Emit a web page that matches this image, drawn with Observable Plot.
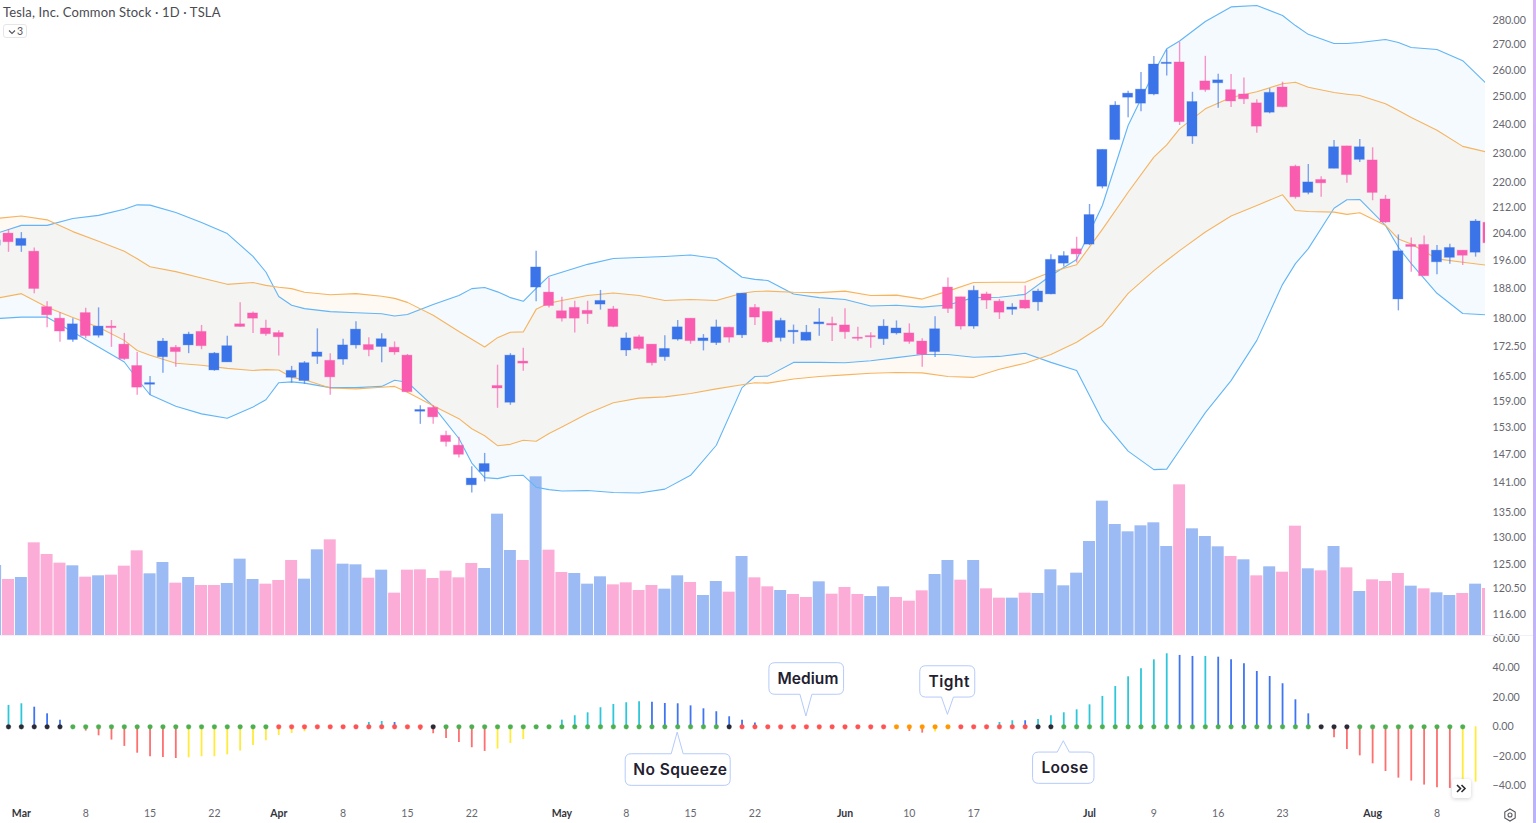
<!DOCTYPE html>
<html><head><meta charset="utf-8">
<script src="https://cdn.jsdelivr.net/npm/d3@7"></script>
<script src="https://cdn.jsdelivr.net/npm/@observablehq/plot@0.6"></script>
<style>
html,body{margin:0;padding:0;background:#fff;overflow:hidden}
#stage{position:relative;width:1536px;height:823px;overflow:hidden;font-family:Lato,sans-serif}
#stage>.layer{position:absolute;left:0;top:0}
#title{position:absolute;left:3px;top:4px;font-size:13px;letter-spacing:.16px;color:#4a4a52;white-space:nowrap}
#fold{position:absolute;left:3px;top:24px;width:24px;height:14px;box-sizing:border-box;border:1px solid #e6e6ea;border-radius:3px;font-size:10.5px;line-height:12px;color:#55555d;text-align:right;padding-right:3px}
#fold svg{position:absolute;left:4px;top:3px}
#sep{position:absolute;left:0;top:635px;width:1533px;height:1px;background:#eff0f8}
#edge{position:absolute;right:0;top:0;width:3px;height:823px;background:linear-gradient(#d9b6f7,#b9b3fb)}
#more{position:absolute;left:1452px;top:779px;width:19px;height:19px;background:#fff;border-radius:3px;box-shadow:0 1px 4px rgba(0,0,0,.18)}
#gear{position:absolute;left:1503px;top:806px}
</style></head><body>
<div id="stage">
<div id="vol" class="layer"></div>
<div id="price" class="layer"></div>
<div id="osc" class="layer"></div>
<div id="sep"></div>
<div id="title">Tesla, Inc. Common Stock · 1D · TSLA</div>
<div id="fold"><svg width="8" height="8" viewBox="0 0 8 8"><path d="M1 2.5 L4 5.5 L7 2.5" fill="none" stroke="#55555d" stroke-width="1.1"/></svg>3</div>
<div id="more"><svg width="19" height="19" viewBox="0 0 19 19"><path d="M5 6 L8.5 9.5 L5 13 M9.5 6 L13 9.5 L9.5 13" fill="none" stroke="#2b2b33" stroke-width="1.6"/></svg></div>
<div id="gear"><svg width="14" height="14" viewBox="0 0 14 14"><path d="M7 1 L12.2 4 L12.2 10 L7 13 L1.8 10 L1.8 4 Z" fill="none" stroke="#55555d" stroke-width="1.1"/><circle cx="7" cy="7" r="2" fill="none" stroke="#55555d" stroke-width="1.1"/></svg></div>
<div id="edge"></div>
</div>
<script>
// candles, first entry is session index -1 (mostly off the left edge)
const firstSession = -1;
const open = [200.5,204.1,200.4,198.7,183.0,179.9,174.3,181.4,175.4,177.8,173.1,167.7,163.1,169.9,172.3,172.9,176.4,166.6,168.6,178.4,181.3,177.3,176.1,164.8,164.0,170.0,169.0,169.3,172.9,173.0,172.5,172.3,170.3,156.7,157.6,151.2,149.0,140.5,143.3,162.8,158.8,168.8,188.4,187.0,181.9,182.8,182.0,183.7,182.4,171.6,175.0,173.1,169.9,174.4,179.9,174.0,173.5,177.5,175.5,182.8,181.7,174.8,176.3,174.1,178.4,178.5,178.1,174.9,175.3,174.5,176.0,176.0,173.9,171.2,188.4,185.7,177.8,186.5,184.5,182.3,184.8,184.3,186.5,195.2,199.4,200.8,218.8,234.5,249.7,247.5,250.9,262.5,263.1,235.7,255.8,255.1,252.5,250.9,247.6,244.2,253.5,225.4,216.8,221.0,224.7,232.3,227.7,227.5,214.7,185.1,200.7,200.7,195.6,196.9,199.0,198.4,207.4];
const close = [202.0,201.5,202.5,188.0,180.8,176.5,178.4,175.3,177.8,177.4,169.4,162.4,163.5,173.9,171.2,175.7,172.7,170.8,172.7,177.7,179.9,175.8,175.0,166.5,168.4,171.1,164.9,172.9,177.0,171.7,174.5,171.1,161.3,157.1,155.4,149.8,147.0,141.9,145.0,162.2,170.3,168.3,194.1,183.3,179.9,179.9,181.1,184.7,177.7,174.7,172.0,168.4,172.0,177.6,174.0,174.7,177.6,174.9,186.7,180.2,173.7,179.3,176.7,176.2,178.9,178.1,176.3,174.6,175.0,177.8,177.3,173.8,170.5,177.1,182.5,177.8,187.5,184.8,181.5,182.9,182.6,187.3,196.3,197.4,197.9,209.8,231.1,246.8,251.2,252.7,262.3,263.0,240.8,248.1,252.5,256.2,248.3,249.1,239.2,251.5,246.2,215.4,220.2,219.9,232.0,222.6,232.0,216.8,207.5,198.8,200.1,191.6,199.0,199.8,197.5,207.8,201.2];
const high = [203.2,205.3,204.4,199.8,184.5,181.5,179.9,182.7,182.8,179.4,176.0,171.1,165.1,174.7,172.9,176.3,178.1,171.1,175.3,184.2,181.7,179.5,176.7,167.6,168.8,177.2,170.8,174.5,179.1,174.9,175.9,173.8,170.6,158.1,158.1,152.2,150.9,144.4,147.3,167.9,170.8,172.2,198.8,191.1,185.7,184.6,184.6,187.6,183.2,176.1,175.5,173.1,175.4,179.4,179.9,175.7,179.5,177.6,186.7,183.7,181.7,180.0,178.2,178.1,182.6,180.3,182.6,177.6,176.2,179.6,179.3,178.5,174.6,180.4,191.1,185.7,188.8,187.1,185.1,183.9,188.8,187.9,197.8,198.7,203.0,213.1,231.1,248.2,252.1,259.2,265.4,268.0,271.1,251.7,265.5,258.5,258.4,257.1,248.9,253.0,255.5,225.9,226.1,222.1,234.3,232.3,234.7,231.8,216.0,203.7,202.8,203.4,200.5,200.9,199.0,208.4,208.0];
const low = [199.0,198.5,198.5,186.7,177.5,173.7,173.7,174.6,174.8,172.4,169.1,160.6,160.6,165.9,167.4,170.8,171.8,166.4,168.6,177.6,176.0,175.3,170.2,163.5,163.2,168.1,160.6,167.9,172.0,170.0,168.5,170.4,161.2,153.8,153.8,148.7,146.3,138.9,141.2,157.5,158.2,166.4,184.5,182.8,179.0,176.1,178.4,182.2,177.5,170.1,171.6,167.7,168.9,174.0,173.2,171.5,172.9,173.5,174.7,178.1,173.4,173.8,173.2,174.0,175.3,173.9,174.5,174.0,172.2,172.9,175.6,173.2,167.4,169.8,181.3,176.9,177.1,182.4,179.7,180.8,182.4,181.9,186.4,194.2,195.4,200.5,218.1,234.3,242.4,244.5,250.4,257.9,239.6,233.0,251.7,245.8,246.1,247.2,236.9,243.8,246.0,214.8,216.2,215.4,224.7,219.9,226.8,214.3,207.2,182.0,192.7,191.6,192.0,195.0,194.7,197.1,200.0];

// bands, read at these sessions
const bandSessions = [-1,1,3,5,7,9,10,11,13,15,17,19,20,21,22,23,25,27,29,30,31,33,35,36,37,38,39,40,41,42,43,45,47,49,51,53,55,57,58,59,61,63,65,67,69,71,73,75,77,79,81,83,85,87,89,90,91,93,95,97,99,100,101,103,104,105,107,108,109,111,113,115];
const bbUpper = [204.1,206.6,206.6,208.7,209.7,211.6,213.0,212.9,210.6,207.5,204.1,197.3,192.8,185.9,183.5,182.6,181.8,181.5,181.2,180.6,181.0,183.7,186.2,188.1,188.4,187.2,185.6,184.6,188.2,191.6,192.7,195.0,196.7,197.0,197.3,197.7,196.7,191.3,190.7,190.4,186.6,185.6,185.1,183.3,183.5,183.0,183.6,185.6,185.7,186.5,191.8,196.4,212.8,239.6,259.2,268.5,271.6,279.6,285.7,286.3,282.1,277.9,274.3,270.6,270.6,271.0,272.2,271.0,269.0,268.2,263.8,254.2];
const bbLower = [179.9,180.3,180.3,176.4,172.5,168.7,164.5,160.7,158.0,156.2,155.2,157.8,159.5,163.6,163.8,163.5,162.4,162.4,162.7,164.2,163.7,158.0,150.6,145.2,142.1,141.9,142.5,142.6,140.1,139.6,139.3,139.4,139.0,138.9,139.7,142.6,149.1,162.4,165.1,165.2,168.6,168.6,168.5,169.0,169.8,170.6,170.6,169.9,170.1,170.9,168.6,166.6,154.7,147.8,143.8,143.9,148.0,156.5,164.1,174.2,189.3,195.2,199.6,211.9,214.6,214.7,206.6,200.0,195.2,186.8,181.3,180.9];
const kcUpper = [208.7,209.5,208.3,204.7,201.8,198.8,196.6,194.3,192.9,191.1,189.3,189.8,189.0,188.5,188.1,187.1,186.4,186.7,186.0,185.4,184.3,180.8,176.5,174.5,172.5,174.9,176.3,176.4,182.4,184.1,184.8,186.2,186.9,186.2,184.8,185.1,184.8,186.8,187.3,187.4,187.1,187.0,187.4,186.2,186.3,185.2,187.4,189.8,189.9,189.9,192.8,194.9,205.4,217.0,228.6,232.8,238.4,245.6,249.8,251.9,254.9,255.5,253.6,251.6,251.0,250.5,247.5,245.0,242.5,237.9,232.3,230.2];
const kcLower = [185.4,186.7,183.0,180.2,177.6,174.2,171.6,170.4,168.4,167.9,167.1,166.6,166.8,166.7,164.9,164.3,162.3,162.1,162.5,162.7,161.3,158.1,155.1,152.8,151.2,149.0,149.3,150.2,150.0,151.7,153.2,156.3,158.8,159.9,160.2,161.0,162.1,163.1,163.6,163.5,164.5,165.1,165.5,165.9,166.1,166.0,165.1,164.9,166.9,168.4,170.6,173.7,178.1,186.8,193.2,196.1,199.0,204.6,209.5,212.8,216.2,211.2,210.9,210.7,210.0,210.5,206.6,202.5,201.0,196.6,195.6,194.7];

// volume in millions of shares; 1 = blue bar, 0 = pink bar
const volume = [105,84,87,139,121.5,108.5,104.5,87.5,89.5,90.5,104,127,92.5,109.5,78.5,87,75,75,78,114.5,84,77,82.5,112.5,84.5,128.5,143.5,107,106,86,98,63.5,98,98.5,85.5,96.5,86.5,108,100.5,182,127.5,112.5,238,128,94.5,93,77,88,76,79,67.5,75,69.5,89.5,79.5,60,81,65,118.5,86.5,73,67.5,61.5,57,80.5,62,72,61.5,58.5,73,57,51.5,67,91.5,112.5,83,112.5,70,56,56,63.5,63,98.5,74.5,93.5,141,201.5,166.5,155.5,164.5,169,133.5,226,160,148.5,133,118.5,113.5,89.5,103,95,164,100,97,133.5,101.5,66,83.5,81,93,74,70,64,60,63,77,70.5];
const volumeUp = [1,0,1,0,0,0,1,0,1,0,0,0,1,1,0,1,0,0,1,1,1,0,0,0,1,1,0,1,1,0,1,0,0,0,0,0,0,0,1,1,1,0,1,0,0,1,1,1,0,0,0,0,1,1,0,1,1,0,1,0,0,1,0,0,1,0,0,0,1,1,0,0,0,1,1,0,1,0,0,1,0,1,1,1,1,1,1,1,1,1,1,1,0,1,1,1,0,1,0,1,0,0,1,0,1,0,1,0,0,0,1,0,1,1,0,1,0];

// squeeze momentum from session 0
const momentum = [14.5,15.6,13.3,8.8,4.5,-0.3,-2.9,-6.1,-9,-13.3,-17.9,-20.3,-20.8,-21.5,-21,-20.3,-20.3,-19,-16.5,-12.7,-9.5,-5.9,-4.5,-3.4,-1.4,-0.4,0.2,1,2.9,3.6,2.9,0.5,-2.5,-4.7,-7.9,-10.6,-14.2,-16.7,-15.1,-11.3,-8.6,-0.5,0.5,4.5,7.5,9.5,12.9,15.1,16.3,16.9,16.7,15.8,15.6,14.2,12.2,10.2,6.8,4.5,2.5,0.5,-2,-1,-1.8,-2.3,-1,-2,-0.5,-2,-0.5,-0.5,-3.2,-4.3,-3.6,-1,-0.5,0.5,1,2.9,4.1,4.1,5,7.5,9.5,11.5,14.9,20.6,27.3,33.9,39.3,45.4,49.5,48.4,47.7,47.7,47.2,45.4,42.7,37.5,34.1,29.2,18.3,8.8,-0.5,-7.5,-15.4,-19.7,-25.1,-30.3,-34.8,-36.8,-39.5,-41.4,-41.8,-38,-37.5];
const momentumTone = "ccbbbrrrrrrrrryyyyyyyyyyyyccccbbrrrrrryyyyccccccccbbbbbbbbbbrrryyrrryyrryyyccccbcccccccccccbbcbbbbbbbbrrrrrrrrrrryy";
const squeezeTone = "kkkkkggggggggggggggggRRRRRRRRRRRRkggggggggggggggggggggggkRRRRRRRRRRRRoooooRRRRRRkkggggggggggggggggggggkkkggggggggg";

// axes
const priceTicks = [280,270,260,250,240,230,220,212,204,196,188,180,172.5,165,159,153,147,141,135,130,125,120.5,116];
const momentumTicks = [60,40,20,0,-20,-40];
const monthTicks = [1,21,43,65,84,106];
const monthNames = ["Mar","Apr","May","Jun","Jul","Aug"];
const dayTicks = [6,11,16,26,31,36,48,53,58,70,75,89,94,99,111];
const dayNames = ["8","15","22","8","15","22","8","15","22","10","17","9","16","23","8"];

const callouts = [
  {label:"No Squeeze", session:52, level:-3.9, below:true,  left:52, right:53, near:21.7, far:53.3, textAt:3, textWidth:93.7},
  {label:"Medium",     session:62, level:7,    below:false, left:37, right:37.7, near:21.7, far:53.3, textAt:2, textWidth:61},
  {label:"Tight",      session:73, level:8.1,  below:false, left:27.7, right:27.3, near:17.3, far:48.6, textAt:1.5, textWidth:41},
  {label:"Loose",      session:82, level:-9.8, below:true,  left:30.7, right:30.7, near:11.3, far:42.6, textAt:1.5, textWidth:46.7}
];

const BLUE="#3b74e8", PINK="#f95cae";
const candles = open.map((o,k)=>({i:k+firstSession,o,c:close[k],h:high[k],l:low[k],col:close[k]>=o?BLUE:PINK}));
const bands = bbUpper.map((u,k)=>({i:bandSessions[k],bu:u,bl:bbLower[k],ku:kcUpper[k],kl:kcLower[k]}));
const bars = volume.map((v,k)=>({i:k+firstSession,v,col:volumeUp[k]?"#9cbaf3":"#fbadd7"}));
const toneColor={c:"#2ec7da",b:"#3f74f2",r:"#ff6f70",y:"#ffeb3b"};
const dotColor={k:"#2a2b36",g:"#4caf50",R:"#ff5252",o:"#ff9800"};
const osc = momentum.map((m,k)=>({i:k,m,bar:toneColor[momentumTone[k]],dot:dotColor[squeezeTone[k]]}));

const W=1536,H=823,RM=51;
const xOpt={domain:[-0.6216,114.77],axis:null};
const base={width:W,height:H,marginLeft:0,marginRight:RM,x:xOpt,color:{type:"identity"},
  style:{background:"transparent",fontFamily:"Lato,sans-serif"}};
const AX="#67676f";

const volPlot=Plot.plot({...base,marginTop:0,marginBottom:188,
  y:{domain:[0,952.5],axis:null},
  marks:[Plot.rect(bars,{x1:d=>d.i-.465,x2:d=>d.i+.465,y1:0,y2:"v",fill:"col",clip:true})]});
document.getElementById("vol").append(volPlot);

const pricePlot=Plot.plot({...base,marginTop:0,marginBottom:188,
  y:{type:"log",domain:[112.43,288.43],axis:null},
  marks:[
    Plot.areaY(bands,{x:"i",y1:"bl",y2:"bu",fill:"#2196f3",fillOpacity:.05,clip:true}),
    Plot.areaY(bands,{x:"i",y1:"kl",y2:"ku",fill:"#ff8a30",fillOpacity:.055,clip:true}),
    Plot.line(bands,{x:"i",y:"bu",stroke:"#62b5f6",strokeWidth:1.1,clip:true}),
    Plot.line(bands,{x:"i",y:"bl",stroke:"#62b5f6",strokeWidth:1.1,clip:true}),
    Plot.line(bands,{x:"i",y:"ku",stroke:"#f6b45f",strokeWidth:1.1,clip:true}),
    Plot.line(bands,{x:"i",y:"kl",stroke:"#f6b45f",strokeWidth:1.1,clip:true}),
    Plot.ruleX(candles,{x:"i",y1:"l",y2:"h",stroke:"col",strokeWidth:1.4,strokeOpacity:.65,clip:true}),
    Plot.rect(candles,{x1:d=>d.i-.39,x2:d=>d.i+.39,y1:"o",y2:"c",fill:"col",stroke:"col",strokeOpacity:.3,strokeWidth:1,clip:true}),
    Plot.axisY(priceTicks,{anchor:"right",tickSize:0,tickPadding:7,label:null,tickFormat:d3.format(".2f"),fontSize:10.7,fill:AX})
  ]});
document.getElementById("price").append(pricePlot);

function calloutMark(index,{x,y}){
  const g=d3.create("svg:g");
  for(const c of callouts){
    const px=x(c.session),py=y(c.level),s=c.below?1:-1;
    const top=Math.min(s*c.near,s*c.far),bot=Math.max(s*c.near,s*c.far),L=-c.left,R=c.right,r=6,b=6;
    const d=c.below
      ?`M${L+r},${top}H${-b}L0,0L${b},${top}H${R-r}Q${R},${top} ${R},${top+r}V${bot-r}Q${R},${bot} ${R-r},${bot}H${L+r}Q${L},${bot} ${L},${bot-r}V${top+r}Q${L},${top} ${L+r},${top}Z`
      :`M${L+r},${top}H${R-r}Q${R},${top} ${R},${top+r}V${bot-r}Q${R},${bot} ${R-r},${bot}H${b}L0,0L${-b},${bot}H${L+r}Q${L},${bot} ${L},${bot-r}V${top+r}Q${L},${top} ${L+r},${top}Z`;
    const k=g.append("g").attr("transform",`translate(${px},${py})`);
    k.append("path").attr("d",d).attr("fill","#fff").attr("stroke","#b5cbfa").attr("stroke-width",1);
    k.append("text").attr("x",c.textAt).attr("y",(top+bot)/2+5.5).attr("text-anchor","middle")
      .attr("textLength",c.textWidth).attr("lengthAdjust","spacing")
      .attr("font-family","Inter,Lato,sans-serif").attr("font-weight",600).attr("font-size",15.5).attr("fill","#1f2030").text(c.label);
  }
  return g.node();
}

const oscPlot=Plot.plot({...base,marginTop:636,marginBottom:24,
  y:{domain:[-49.29,61.22],axis:null},
  marks:[
    Plot.ruleX(osc,{x:"i",y1:0,y2:"m",stroke:"bar",strokeWidth:1.8}),
    Plot.dot(osc,{x:"i",y:0,r:2.4,fill:"dot",stroke:"dot",strokeOpacity:.35,strokeWidth:.8}),
    Plot.axisY(momentumTicks,{anchor:"right",tickSize:0,tickPadding:7,label:null,tickFormat:d3.format(".2f"),fontSize:10.7,fill:AX}),
    Plot.axisX(dayTicks,{anchor:"bottom",tickSize:0,tickPadding:10,label:null,tickFormat:t=>dayNames[dayTicks.indexOf(t)],fontSize:10.5,fill:AX}),
    Plot.axisX(monthTicks,{anchor:"bottom",tickSize:0,tickPadding:10,label:null,tickFormat:t=>monthNames[monthTicks.indexOf(t)],fontSize:10.5,fontWeight:700,fill:"#33343e"}),
    calloutMark
  ]});
document.getElementById("osc").append(oscPlot);
</script>
</body></html>
